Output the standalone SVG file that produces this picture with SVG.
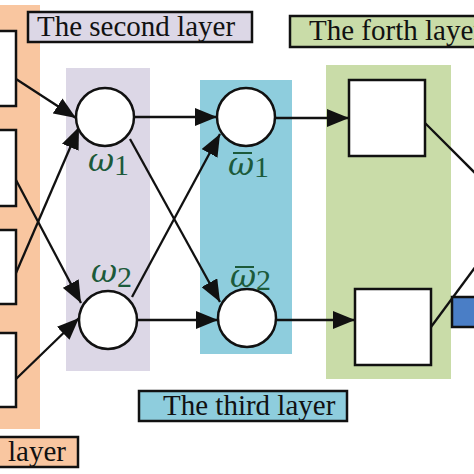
<svg xmlns="http://www.w3.org/2000/svg" width="474" height="474" viewBox="0 0 474 474">
<defs>
<marker id="ah" markerWidth="22" markerHeight="18" refX="22" refY="9" orient="auto" markerUnits="userSpaceOnUse">
<path d="M0,0 L22,9 L0,18 Z" fill="#111"/>
</marker>
<style>
.box{fill:#fff;stroke:#111;stroke-width:2.5}
.nd{fill:#fff;stroke:#111;stroke-width:2.5}
.ln{stroke:#111;stroke-width:2.3;fill:none}
.ar{stroke:#111;stroke-width:2.3;fill:none;marker-end:url(#ah)}
.lbl{stroke:#111;stroke-width:2.5}
.t{font-family:"Liberation Serif","Times New Roman",serif;font-size:29px;fill:#111}
.w{font-family:"Liberation Serif","Times New Roman",serif;font-size:30px;fill:#1c5a3a}
.wi{font-family:"DejaVu Serif",serif;font-style:italic;font-size:32px}
.bar{stroke:#1c5a3a;stroke-width:2}
</style>
</defs>
<rect width="474" height="474" fill="#fff"/>
<g id="bands">
<rect x="0" y="5" width="40" height="424" fill="#f9c6a0"/>
<rect x="66" y="68" width="84" height="303" fill="#dcd7e6"/>
<rect x="200" y="80" width="92" height="274" fill="#8ecddd"/>
<rect x="326" y="65" width="125" height="314" fill="#c9dca8"/>
</g>
<g id="label-first">
<rect class="lbl" x="-10" y="437" width="88" height="30" fill="#f9c6a0"/>
<text class="t" x="8" y="461">layer</text>
</g>
<g id="label-second">
<rect class="lbl" x="28" y="12" width="224" height="30" fill="#dcd7e6"/>
<text class="t" x="37" y="36">The second layer</text>
</g>
<g id="label-third">
<rect class="lbl" x="139" y="391" width="208" height="30" fill="#8ecddd"/>
<text class="t" x="163" y="415">The third layer</text>
</g>
<g id="label-forth">
<rect class="lbl" x="290" y="16" width="200" height="31" fill="#c9dca8"/>
<text class="t" x="309" y="40">The forth layer</text>
</g>
<g id="connectors">
<line class="ar" x1="16" y1="79" x2="76" y2="118"/>
<line class="ar" x1="16" y1="273" x2="79" y2="127"/>
<line class="ar" x1="16" y1="180" x2="81" y2="303"/>
<line class="ar" x1="16" y1="379" x2="79" y2="318"/>
<line class="ar" x1="134" y1="117" x2="217" y2="117"/>
<line class="ar" x1="130" y1="139" x2="220" y2="302"/>
<line class="ar" x1="132" y1="297" x2="220" y2="134"/>
<line class="ar" x1="137" y1="320" x2="218" y2="320"/>
<line class="ar" x1="275" y1="118" x2="349" y2="118"/>
<line class="ar" x1="276" y1="320" x2="355" y2="320"/>
<line class="ln" x1="425" y1="123" x2="476" y2="174"/>
<line class="ln" x1="431" y1="327" x2="476" y2="266"/>
</g>
<g id="in1"><rect class="box" x="-10" y="31" width="26" height="75"/></g>
<g id="in2"><rect class="box" x="-10" y="130" width="26" height="76"/></g>
<g id="in3"><rect class="box" x="-10" y="230" width="26" height="74"/></g>
<g id="in4"><rect class="box" x="-10" y="333" width="26" height="74"/></g>
<g id="w1"><circle class="nd" cx="105" cy="117" r="29"/>
<text class="w" x="88" y="171"><tspan class="wi">ω</tspan><tspan dy="4">1</tspan></text></g>
<g id="w2"><circle class="nd" cx="108" cy="320" r="29"/>
<text class="w" x="91" y="282"><tspan class="wi">ω</tspan><tspan dy="5">2</tspan></text></g>
<g id="wb1"><circle class="nd" cx="246" cy="117" r="29"/>
<line class="bar" x1="233" y1="153" x2="252" y2="153"/>
<text class="w" x="228" y="175"><tspan class="wi">ω</tspan><tspan dy="2">1</tspan></text></g>
<g id="wb2"><circle class="nd" cx="247" cy="318" r="29"/>
<line class="bar" x1="235" y1="267" x2="254" y2="267"/>
<text class="w" x="230" y="287"><tspan class="wi">ω</tspan><tspan dy="3">2</tspan></text></g>
<g id="f1"><rect class="box" x="349" y="80" width="76" height="76"/></g>
<g id="f2"><rect class="box" x="355" y="289" width="76" height="76"/></g>
<g id="out"><rect x="452" y="297" width="30" height="30" fill="#4a7ec6" stroke="#111" stroke-width="2.5"/></g>
</svg>
